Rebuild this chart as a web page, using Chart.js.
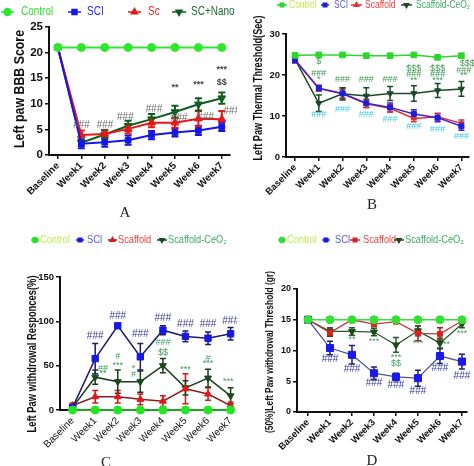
<!DOCTYPE html>
<html>
<head>
<meta charset="utf-8">
<script src="https://cdn.jsdelivr.net/npm/chart.js@4.4.1/dist/chart.umd.min.js"></script>
<style>
  body { margin: 0; background: #fff; }
  #wrap { position: relative; width: 474px; height: 466px; overflow: hidden; }
  #wrap canvas { position: absolute; }
  .cap { position: absolute; font-family: 'Liberation Serif', 'DejaVu Serif', serif; font-size: 15px; color: #222; transform: translate(-50%, -50%); }
</style>
</head>
<body>
<div id="wrap">
  <canvas id="cA" width="237" height="233" style="left:0;top:0"></canvas>
  <canvas id="cB" width="237" height="233" style="left:237px;top:0"></canvas>
  <canvas id="cC" width="237" height="233" style="left:0;top:233px"></canvas>
  <canvas id="cD" width="237" height="233" style="left:237px;top:233px"></canvas>
  <div class="cap" style="left:125px;top:212px">A</div>
  <div class="cap" style="left:372px;top:204px">B</div>
  <div class="cap" style="left:106px;top:462px">C</div>
  <div class="cap" style="left:372px;top:460px">D</div>
</div>
<script>
const weeks = ['Baseline', 'Week1', 'Week2', 'Week3', 'Week4', 'Week5', 'Week6', 'Week7'];

// A - BBB score
const bbbTicks = [0, 5, 10, 15, 20, 25];
const bbbControl = [21, 21, 21, 21, 21, 21, 21, 21];
const bbbSCI = [21, 2.2, 2.5, 2.9, 3.9, 4.4, 4.8, 5.5];
const bbbSc = [21, 3.9, 4.1, 5.1, 6.3, 6.3, 7.1, 7.0];
const bbbNano = [21, 2.4, 4.0, 5.7, 7.0, 8.4, 9.9, 11.1];
const bbbSCIErr = [0, 0.9, 0.9, 0.9, 0.8, 0.8, 0.9, 0.8];
const bbbScErr = [0, 0.9, 0.8, 0.9, 0.9, 1.0, 1.5, 1.6];
const bbbNanoErr = [0, 0.6, 0.8, 1.0, 1.0, 1.2, 1.2, 1.1];
const bbbHash = [[1, 5.9, '###'], [2, 5.9, '###'], [3, 7.4, '###', -0.13], [4, 8.9, '###', 0.1], [5, 7.2, '###', 0.17], [6, 7.4, '###', 0.3], [7, 8.6, '###', 0.42]];
const bbbStars = [[5, 13.1, '**'], [6, 13.7, '***'], [7, 16.6, '***'], [7, 14.1, '$$']];

// B - thermal threshold
const thermTicks = [0, 10, 20, 30];
const thermControl = [24.8, 24.9, 24.9, 24.7, 24.7, 24.9, 24.3, 24.7];
const thermSCI = [23.7, 16.8, 15.5, 13.1, 12.1, 10.5, 9.6, 7.5];
const thermScaf = [23.6, 16.7, 15.4, 13.0, 11.9, 9.4, 9.8, 8.2];
const thermCeO2 = [23.8, 13.1, 15.4, 14.9, 15.5, 15.5, 16.2, 16.6];
const thermControlErr = [0.6, 0.3, 0.3, 0.3, 0.3, 0.3, 0.3, 0.3];
const thermSCIErr = [0.8, 0.7, 1.3, 1.0, 1.1, 1.0, 1.0, 1.0];
const thermScafErr = [0.5, 0.6, 1.0, 0.9, 0.9, 0.8, 0.8, 0.8];
const thermCeO2Err = [0.5, 2.0, 1.5, 2.0, 1.7, 1.9, 1.7, 1.8];
const thermUp = [[1, 23.3, '$'], [1, 20.3, '###'], [1, 18.8, '*'], [2, 19.0, '###'], [3, 19.0, '###'], [4, 19.0, '###'],
  [5, 21.5, '$$$'], [5, 20.0, '###'], [5, 18.6, '**'], [6, 21.5, '$$$'], [6, 20.1, '###'], [6, 18.6, '***'],
  [7, 22.9, '$$$', 0.25], [7, 21.0, '###', 0.1], [7, 19.8, '**', 0.1]];
const thermDown = [[1, 10.4, '###'], [2, 11.6, '###'], [3, 10.4, '###'], [4, 9.2, '###'], [5, 7.4, '###'], [6, 6.7, '###'], [7, 5.1, '###']];

// C - withdrawal responses
const respTicks = [0, 50, 100, 150];
const respControl = [0, 0, 0, 0, 0, 0, 0, 0];
const respSCI = [3, 58, 95, 60, 90, 83, 81, 86];
const respScaf = [5, 15, 15, 12, 10, 24, 18, 5];
const respCeO2 = [3, 37, 32, 32, 50, 25, 36, 16];
const respSCIErr = [3, 17, 2, 15, 5, 6, 7, 7];
const respScafErr = [3, 7, 7, 6, 6, 17, 7, 4];
const respCeO2Err = [2, 8, 13, 12, 8, 8, 10, 9];
const respHash = [[1, 82.7, '###'], [2, 106, '###'], [3, 85, '###'], [4, 103, '###'], [5, 96.6, '###'], [6, 96.6, '###'], [7, 99.6, '###']];
const respGreen = [[1, 47, '##', 0.35], [1, 41, '**', 0.35], [2, 60, '#'], [2, 50.7, '***'], [3, 39.5, '#', -0.3], [3, 47, '*', -0.3],
  [4, 76, '###'], [4, 65, '$$'], [5, 46, '***'], [6, 58, '#'], [6, 52.6, '***'], [7, 32, '***', -0.1]];

// D - 50% withdrawal threshold
const threshTicks = [0, 5, 10, 15, 20];
const threshControl = [15, 15, 15, 15, 15, 15, 15, 15];
const threshSCI = [15, 10.4, 9.3, 6.3, 5.7, 5.5, 9.1, 8.2];
const threshScaf = [15, 12.9, 15.0, 14.3, 14.7, 12.8, 12.7, 14.8];
const threshCeO2 = [15, 13.1, 13.1, 13.0, 10.9, 13.2, 11.2, 14.3];
const threshSCIErr = [0.3, 1.1, 1.5, 1.0, 0.6, 1.3, 1.2, 1.2];
const threshScafErr = [0.3, 0.6, 0.3, 0.4, 0.3, 1.2, 1.0, 0.3];
const threshCeO2Err = [0.3, 0.6, 0.6, 0.6, 1.2, 0.8, 0.8, 0.6];
const threshHash = [[1, 8.5, '###'], [2, 6.9, '###'], [3, 4.7, '###'], [4, 4.3, '###'], [5, 3.4, '###'], [6, 7.1, '###'], [7, 5.85, '###']];
const threshGreen = [[2, 11.8, '**'], [3, 11.4, '***'], [4, 8.9, '***'], [4, 7.9, '$$'], [5, 11.2, '***'], [6, 11.05, '**', 0.3], [7, 12.8, '***']];

const SANS = "'Liberation Sans', Arial, sans-serif";
const W = 237, H = 233;

// squeezed text, the figure uses a narrow font
function narrowText(ctx, text, x, y, sx) {
  ctx.save();
  ctx.translate(x, y);
  ctx.scale(sx, 1);
  ctx.fillText(text, 0, 0);
  ctx.restore();
}

function makeExtras(p) {
  return {
    id: 'extras',
    beforeDatasetsDraw(chart) {
      const { ctx, scales: { y } } = chart;
      ctx.save();
      chart.data.datasets.forEach((ds, k) => {
        if (!ds.err) return;
        const meta = chart.getDatasetMeta(k);
        ctx.strokeStyle = ds.errColor;
        ctx.lineWidth = p.errWidth;
        ds.err.forEach((e, i) => {
          if (!e) return;
          const px = meta.data[i].x, v = ds.data[i].y;
          const top = y.getPixelForValue(v + e), bot = y.getPixelForValue(v - e);
          ctx.beginPath();
          ctx.moveTo(px, top); ctx.lineTo(px, bot);
          ctx.moveTo(px - p.cap, top); ctx.lineTo(px + p.cap, top);
          ctx.moveTo(px - p.cap, bot); ctx.lineTo(px + p.cap, bot);
          ctx.stroke();
        });
      });
      ctx.restore();
    },
    afterDraw(chart) {
      const { ctx, chartArea, scales: { x, y } } = chart;
      ctx.save();
      ctx.textAlign = 'center';
      ctx.textBaseline = 'middle';
      // significance marks
      p.marks.forEach(g => {
        ctx.fillStyle = g.color;
        ctx.font = g.font;
        g.list.forEach(([i, v, t, dx]) => ctx.fillText(t, x.getPixelForValue(i + (dx || 0)), y.getPixelForValue(v)));
      });
      // y title
      ctx.save();
      ctx.fillStyle = '#111';
      ctx.font = p.title.font;
      ctx.translate(p.title.x, p.title.y);
      ctx.rotate(-Math.PI / 2);
      const tw = ctx.measureText(p.title.text).width;
      ctx.scale(p.title.len / tw, 1);
      ctx.fillText(p.title.text, 0, 0);
      ctx.restore();
      // legend
      ctx.textAlign = 'left';
      ctx.font = p.legend.font;
      p.legend.items.forEach((it, k) => {
        const s = p.sets[k];
        const ly = p.legend.y;
        ctx.strokeStyle = s.line;
        ctx.lineWidth = 1.5;
        ctx.beginPath();
        ctx.moveTo(it[0], ly); ctx.lineTo(it[1], ly);
        ctx.stroke();
        ctx.fillStyle = s.color;
        ctx.strokeStyle = s.color;
        Chart.helpers.drawPoint(ctx, { pointStyle: s.style, radius: p.legend.r, rotation: s.rot || 0, borderWidth: 1 }, (it[0] + it[1]) / 2, ly);
        ctx.fillStyle = s.textColor;
        narrowText(ctx, s.label, it[2], ly, p.legend.sx);
      });
      ctx.restore();
    }
  };
}

function buildChart(id, p) {
  const axisGrid = { drawOnChartArea: false, drawTicks: true, tickLength: 4, color: '#111', lineWidth: 1.5 };
  const axisBorder = { color: '#111', width: 2 };
  return new Chart(document.getElementById(id), {
    type: 'line',
    data: {
      datasets: p.sets.map(s => ({
        label: s.label,
        data: s.values.map((v, i) => ({ x: i, y: v })),
        err: s.err,
        errColor: s.errColor || s.line,
        borderColor: s.line,
        borderWidth: p.lw,
        pointStyle: s.style,
        pointRotation: s.rot || 0,
        pointRadius: s.r,
        pointHoverRadius: s.r,
        pointBackgroundColor: s.color,
        pointBorderColor: s.color,
        pointBorderWidth: 1,
        tension: 0,
        clip: false
      }))
    },
    options: {
      responsive: false,
      animation: false,
      events: [],
      layout: { padding: { left: 0, top: p.area.t, right: W - p.area.r, bottom: 0 } },
      plugins: { legend: { display: false }, tooltip: { enabled: false } },
      scales: {
        x: {
          type: 'linear',
          min: p.xMin,
          max: p.xMax,
          afterBuildTicks: s => { s.ticks = weeks.map((_, i) => ({ value: i })); },
          afterFit: s => { s.height = H - p.area.b; s.paddingLeft = 0; s.paddingRight = 0; },
          ticks: { callback: v => weeks[v], autoSkip: false, minRotation: 45, maxRotation: 45, color: '#111', padding: 1, font: p.xFont },
          grid: axisGrid,
          border: axisBorder
        },
        y: {
          min: p.yTicks[0],
          max: p.yTicks[p.yTicks.length - 1],
          afterBuildTicks: s => { s.ticks = p.yTicks.map(v => ({ value: v })); },
          afterFit: s => { s.width = p.area.l; },
          ticks: { color: '#111', padding: 2, font: p.yFont },
          grid: axisGrid,
          border: axisBorder
        }
      }
    },
    plugins: [makeExtras(p)]
  });
}

buildChart('cA', {
  area: { l: 49, t: 27, r: 230, b: 155 }, xMin: -0.38, xMax: 7.35, yTicks: bbbTicks,
  lw: 2, errWidth: 2, cap: 3.5,
  xFont: { family: SANS, size: 10, weight: 'bold' },
  yFont: { family: SANS, size: 11.5, weight: 'bold' },
  title: { text: 'Left paw BBB Score', font: 'bold 15px ' + SANS, x: 20, y: 89, len: 118 },
  legend: { y: 12, font: '12.5px ' + SANS, sx: 0.8, r: 3.5, items: [[1, 14, 21], [68, 81, 87], [128, 141, 148], [172, 186, 191]] },
  sets: [
    { label: 'Control', values: bbbControl, line: '#2ee82e', color: '#2ee82e', textColor: '#2ee02e', style: 'circle', r: 4 },
    { label: 'SCI', values: bbbSCI, err: bbbSCIErr, line: '#1616e8', color: '#1616e8', textColor: '#2626e8', style: 'rect', r: 4 },
    { label: 'Sc', values: bbbSc, err: bbbScErr, line: '#e81616', color: '#e81616', textColor: '#e82626', style: 'triangle', r: 4.5 },
    { label: 'SC+Nano', values: bbbNano, err: bbbNanoErr, line: '#0f5e20', color: '#0f5e20', textColor: '#1e6a2e', style: 'triangle', rot: 180, r: 4.5 }
  ],
  marks: [
    { color: '#6a6a6a', font: 'italic 10px ' + SANS, list: bbbHash },
    { color: '#444', font: 'bold 9px ' + SANS, list: bbbStars }
  ]
});

buildChart('cB', {
  area: { l: 49, t: 34, r: 232, b: 157 }, xMin: -0.38, xMax: 7.32, yTicks: thermTicks,
  lw: 1.5, errWidth: 1.5, cap: 3,
  xFont: { family: SANS, size: 9.5, weight: 'bold' },
  yFont: { family: SANS, size: 9.5, weight: 'bold' },
  title: { text: 'Left Paw Thermal Threshold(Sec)', font: 'bold 12px ' + SANS, x: 22, y: 88, len: 145 },
  legend: { y: 5, font: '10px ' + SANS, sx: 0.85, r: 2.5, items: [[40, 50, 52], [84, 92, 97], [114, 125, 128], [164, 175, 179]] },
  sets: [
    { label: 'Control', values: thermControl, err: thermControlErr, line: '#2ad82a', color: '#2ad82a', textColor: '#c4ea4c', style: 'rect', r: 4 },
    { label: 'SCI', values: thermSCI, err: thermSCIErr, line: '#3a22d8', color: '#1e1ee0', textColor: '#5a5ae0', style: 'rect', r: 3.5 },
    { label: 'Scaffold', values: thermScaf, err: thermScafErr, line: '#e03030', color: '#e03030', textColor: '#ee3c3c', style: 'triangle', r: 3 },
    { label: 'Scaffold-CeO₂', values: thermCeO2, err: thermCeO2Err, line: '#1a4a28', color: '#1a4a28', textColor: '#3caa64', style: 'triangle', rot: 180, r: 3.5 }
  ],
  marks: [
    { color: '#3c9a50', font: '9px ' + SANS, list: thermUp },
    { color: '#3cc8f0', font: '9px ' + SANS, list: thermDown }
  ]
});

buildChart('cC', {
  area: { l: 60, t: 44, r: 237, b: 177 }, xMin: -0.56, xMax: 7.04, yTicks: respTicks,
  lw: 1.5, errWidth: 1.5, cap: 3,
  xFont: { family: SANS, size: 10 },
  yFont: { family: SANS, size: 9.5, weight: 'bold' },
  title: { text: 'Left Paw withdrowal Responces(%)', font: 'bold 12px ' + SANS, x: 33, y: 121, len: 157 },
  legend: { y: 7, font: '10.5px ' + SANS, sx: 0.88, r: 2.5, items: [[31, 39, 40], [76, 84, 87], [108, 117, 118], [157, 167, 168]] },
  sets: [
    { label: 'Control', values: respControl, line: '#22dd22', color: '#22e622', textColor: '#c4ea4c', style: 'circle', r: 4 },
    { label: 'SCI', values: respSCI, err: respSCIErr, line: '#1c1c6a', color: '#1818e0', errColor: '#1c1c6a', textColor: '#5a5ae0', style: 'rect', r: 4.5 },
    { label: 'Scaffold', values: respScaf, err: respScafErr, line: '#8a1c1c', color: '#e01818', errColor: '#d01818', textColor: '#ee3c3c', style: 'triangle', r: 4 },
    { label: 'Scaffold-CeO₂', values: respCeO2, err: respCeO2Err, line: '#1c3c1c', color: '#1a4a1a', textColor: '#3caa64', style: 'triangle', rot: 180, r: 4 }
  ],
  marks: [
    { color: '#3b3b99', font: '10px ' + SANS, list: respHash },
    { color: '#3f9a55', font: '9px ' + SANS, list: respGreen }
  ]
});

buildChart('cD', {
  area: { l: 60, t: 56, r: 230, b: 179 }, xMin: -0.5, xMax: 7.23, yTicks: threshTicks,
  lw: 1.3, errWidth: 1.5, cap: 3,
  xFont: { family: SANS, size: 9.5, weight: 'bold' },
  yFont: { family: SANS, size: 9, weight: 'bold' },
  title: { text: '(50%)Left Paw withdrowal Threshold (gr)', font: 'bold 11px ' + SANS, x: 33, y: 119, len: 162 },
  legend: { y: 7, font: '10.5px ' + SANS, sx: 0.88, r: 2.5, items: [[41, 49, 50], [85, 93, 98], [113, 123, 126], [157, 167, 168]] },
  sets: [
    { label: 'Control', values: threshControl, line: '#33e033', color: '#33e033', textColor: '#c4ea4c', style: 'circle', r: 4 },
    { label: 'SCI', values: threshSCI, err: threshSCIErr, line: '#5050a0', color: '#1a1ae8', errColor: '#20206a', textColor: '#5a5ae0', style: 'rect', r: 5 },
    { label: 'Scaffold', values: threshScaf, err: threshScafErr, line: '#b04040', color: '#e02020', errColor: '#a01818', textColor: '#ee3c3c', style: 'rect', r: 3.5 },
    { label: 'Scaffold-CeO₂', values: threshCeO2, err: threshCeO2Err, line: '#2a5a2a', color: '#1a4a1a', textColor: '#3caa64', style: 'triangle', rot: 180, r: 4 }
  ],
  marks: [
    { color: '#3434a8', font: '10px ' + SANS, list: threshHash },
    { color: '#45a05a', font: '9px ' + SANS, list: threshGreen }
  ]
});
</script>
</body>
</html>
